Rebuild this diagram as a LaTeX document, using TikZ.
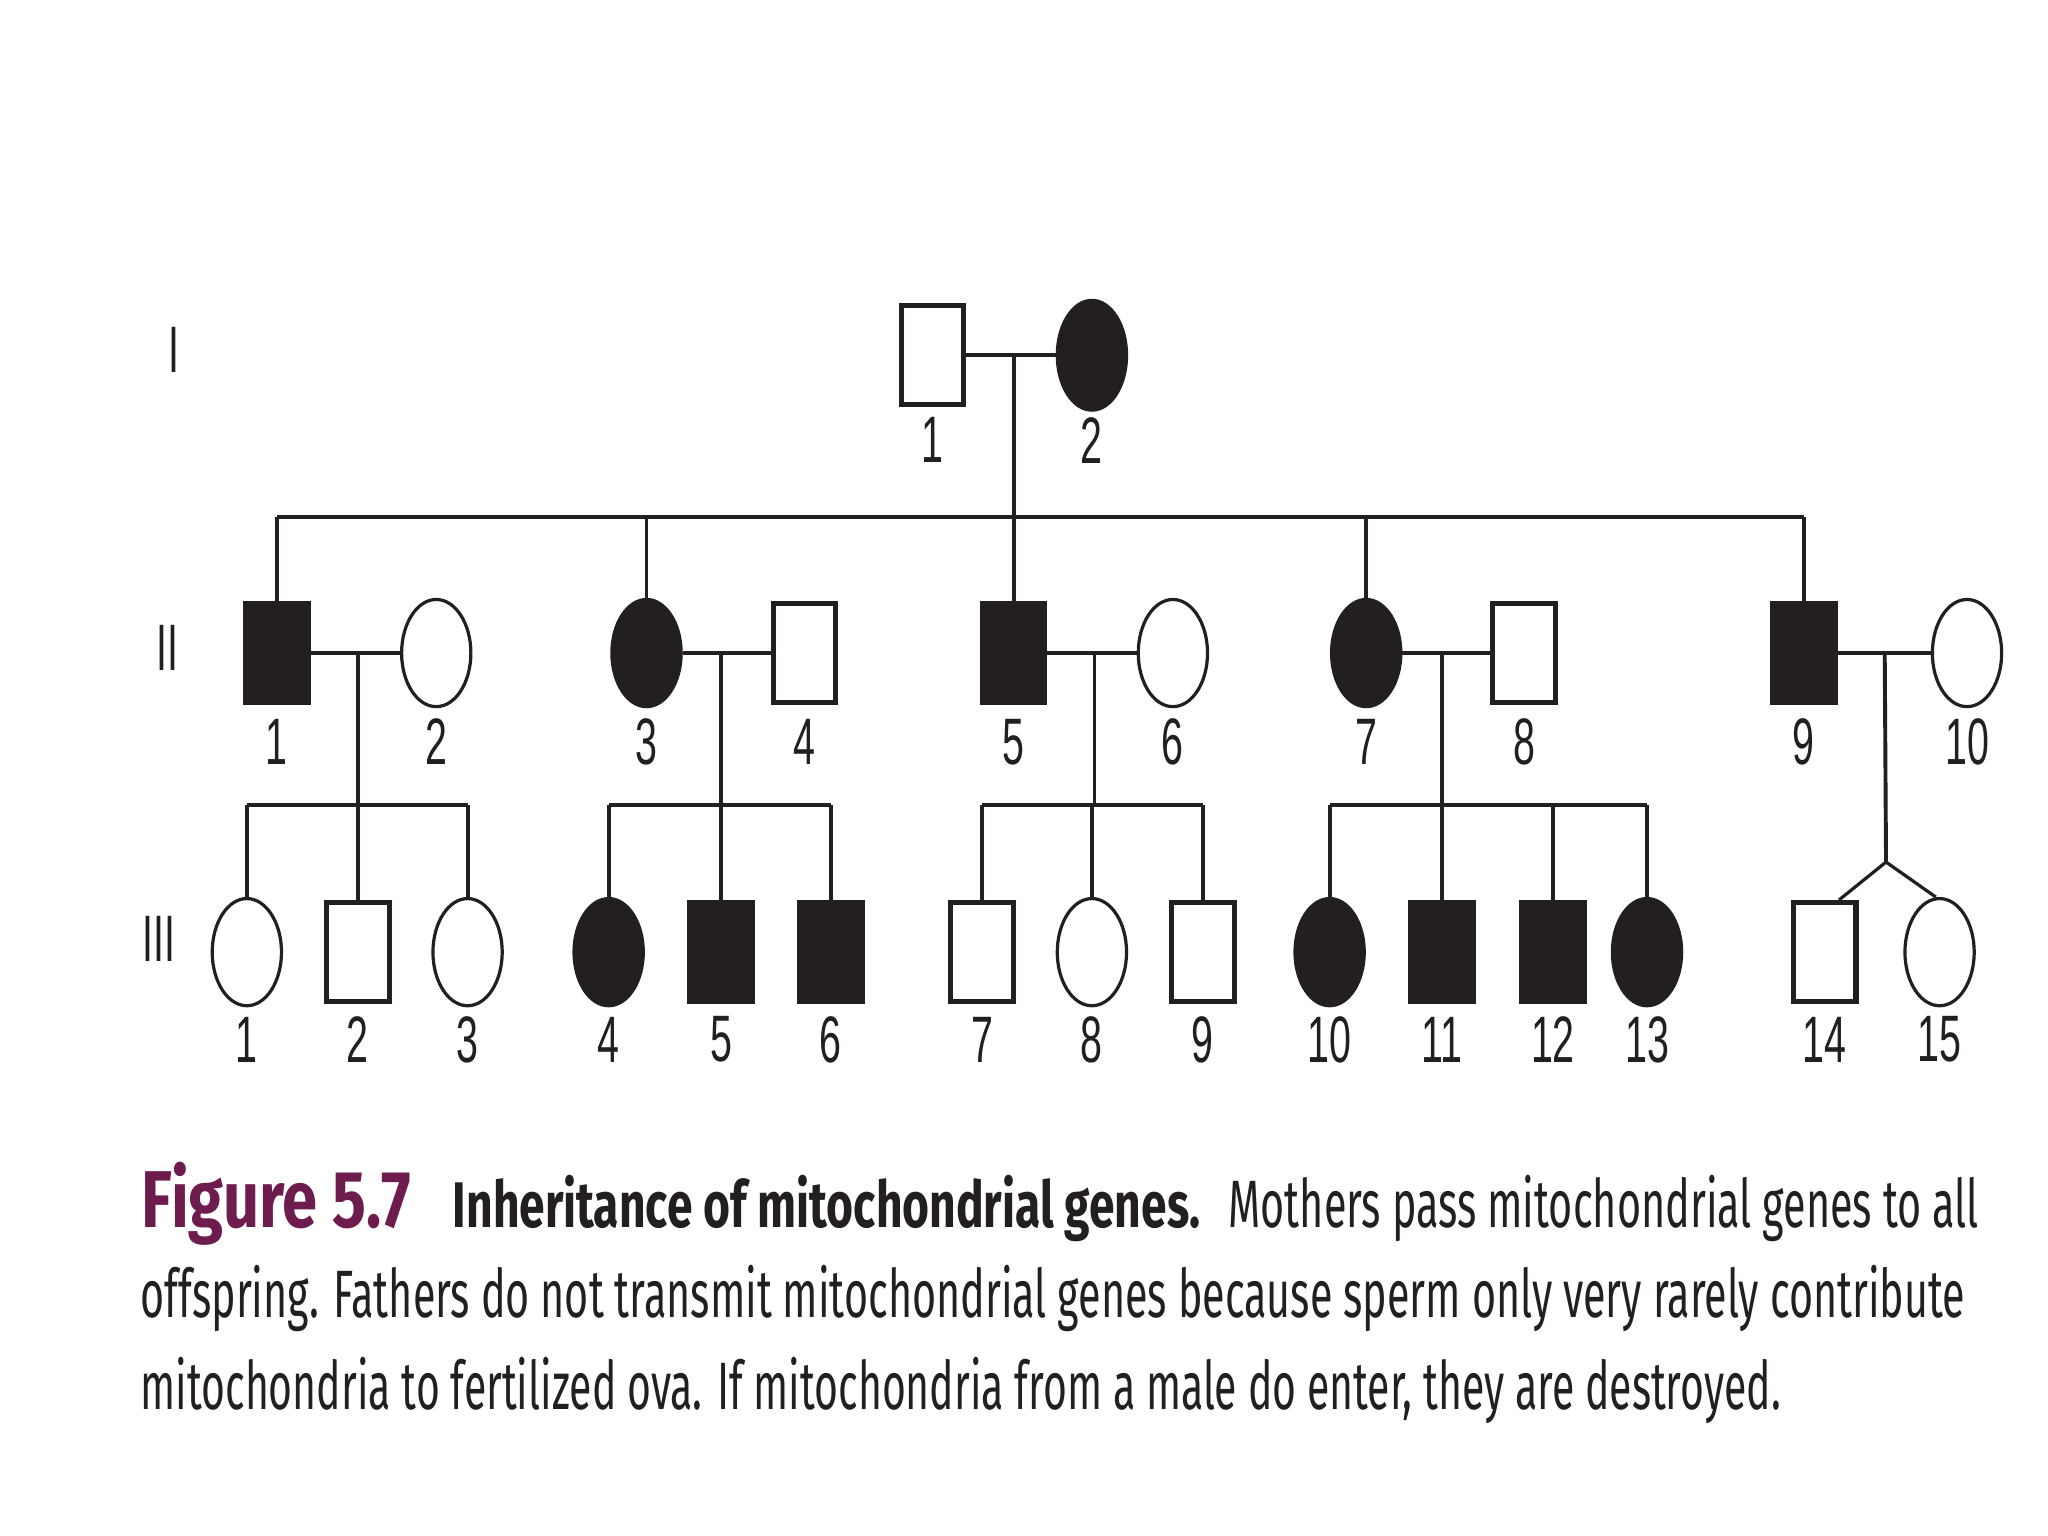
\documentclass[tikz,border=0pt]{standalone}
\usepackage{fontspec}
\usepackage{graphicx}
\usetikzlibrary{shapes.geometric}
\newfontfamily\numfont{Liberation Sans}
\newfontfamily\capfont{Fira Sans}
\definecolor{ink}{HTML}{231F20}
\definecolor{figred}{RGB}{110,28,78}
\newcommand\lbl[1]{\scalebox{0.6}[1]{\numfont #1}}
\tikzset{
  msq/.style={draw=ink,line width=1.1pt,fill=white,rectangle,minimum width=0.48cm,minimum height=0.76cm,inner sep=0pt},
  msqf/.style={msq,fill=ink},
  fel/.style={draw=ink,line width=0.7pt,fill=white,ellipse,minimum width=0.53cm,minimum height=0.82cm,inner sep=0pt},
  felf/.style={fel,fill=ink},
  num/.style={inner sep=0pt,text=ink,font=\fontsize{14.3pt}{16pt}\selectfont},
  link/.style={draw=ink,line width=0.85pt},
  captext/.style={inner sep=0pt,anchor=base west,text=ink}
}
\begin{document}
\begin{tikzpicture}[x=0.01cm,y=-0.01cm]
\useasboundingbox[fill=white] (0,0) rectangle (1568,1176);

% generation labels
\node[num] (gI) at (133,268) {\lbl{I}};
\node[num] (gII) at (128,496) {\lbl{II}};
\node[num] (gIII) at (122,719) {\lbl{III}};

% generation I
\node[msq] (I1) at (714,272) {};
\node[felf,minimum height=0.84cm] (I2) at (836,272) {};
\node[num] (lI1) at (714,337) {\lbl{1}};
\node[num] (lI2) at (836,337) {\lbl{2}};
\draw[link] (I1.east) -- (I2.west);
\coordinate (dI) at (776,272);
\coordinate (sII) at (776,396);
\draw[link] (dI) -- (sII);

% generation II
\foreach \n/\x/\s in {1/212/msqf,2/334/fel,3/495/felf,4/616/msq,5/776/msqf,6/898/fel,7/1046/felf,8/1167/msq,9/1381/msqf,10/1506/fel}{
  \node[\s] (II\n) at (\x,500) {};
  \node[num] (lII\n) at (\x,568) {\lbl{\n}};
}
\coordinate (sIIl) at (212,396);
\coordinate (sIIr) at (1381,396);
\draw[link] (sIIl) -- (sIIr);
\foreach \n in {1,3,5,7,9}{
  \draw[link] (II\n.north) -- (II\n.north |- sII);
}
\draw[link] (II1.east) -- (II2.west);
\draw[link] (II3.east) -- (II4.west);
\draw[link] (II5.east) -- (II6.west);
\draw[link] (II7.east) -- (II8.west);
\draw[link] (II9.east) -- (II10.west);

% generation III
\foreach \n/\x/\s in {1/189/fel,2/274/msq,3/358/fel,4/466/felf,5/552/msqf,6/636/msqf,7/752/msq,8/836/fel,9/921/msq,10/1018/felf,11/1104/msqf,12/1189/msqf,13/1261/felf,14/1397/msq,15/1485/fel}{
  \node[\s] (III\n) at (\x,729) {};
  \node[num] (lIII\n) at (\x,796) {\lbl{\n}};
}

% family descents
\coordinate (dA) at (274,500);  \coordinate (sA) at (274,616);
\coordinate (dB) at (552,500);  \coordinate (sB) at (552,616);
\coordinate (dC) at (838,500);  \coordinate (sC) at (838,616);
\coordinate (dD) at (1104,500); \coordinate (sD) at (1104,616);
\coordinate (dE) at (1443,500); \coordinate (tw) at (1444,660);
\draw[link] (dA) -- (sA);
\draw[link] (dB) -- (sB);
\draw[link] (dC) -- (sC);
\draw[link] (dD) -- (sD);
\draw[link] (dE) -- (tw);

\draw[link] (III1.north |- sA) -- (III3.north |- sA);
\draw[link] (III4.north |- sB) -- (III6.north |- sB);
\draw[link] (III7.north |- sC) -- (III9.north |- sC);
\draw[link] (III10.north |- sD) -- (III13.north |- sD);
\foreach \n/\c in {1/sA,2/sA,3/sA,4/sB,5/sB,6/sB,7/sC,8/sC,9/sC,10/sD,11/sD,12/sD,13/sD}{
  \draw[link] (III\n.north) -- (III\n.north |- \c);
}
\draw[link,line width=0.7pt] (tw) -- ([xshift=0.11cm]III14.north);
\draw[link,line width=0.7pt] (tw) -- ([xshift=-0.03cm]III15.north);

% caption
\node[captext] (c1) at (108,940) {\resizebox{2.06cm}{0.50cm}{\capfont\bfseries\color{figred}Figure 5.7}};
\node[captext] (c2) at (346,940) {\resizebox{5.72cm}{0.40cm}{\capfont\bfseries Inheritance of mitochondrial genes.}};
\node[captext] (c3) at (940,940) {\resizebox{5.74cm}{0.40cm}{\capfont Mothers pass mitochondrial genes to all}};
\node[captext] (c4) at (107,1009) {\resizebox{13.96cm}{0.40cm}{\capfont offspring. Fathers do not transmit mitochondrial genes because sperm only very rarely contribute}};
\node[captext] (c5) at (107,1079) {\resizebox{12.55cm}{0.40cm}{\capfont mitochondria to fertilized ova. If mitochondria from a male do enter, they are destroyed.}};
\end{tikzpicture}
\end{document}
